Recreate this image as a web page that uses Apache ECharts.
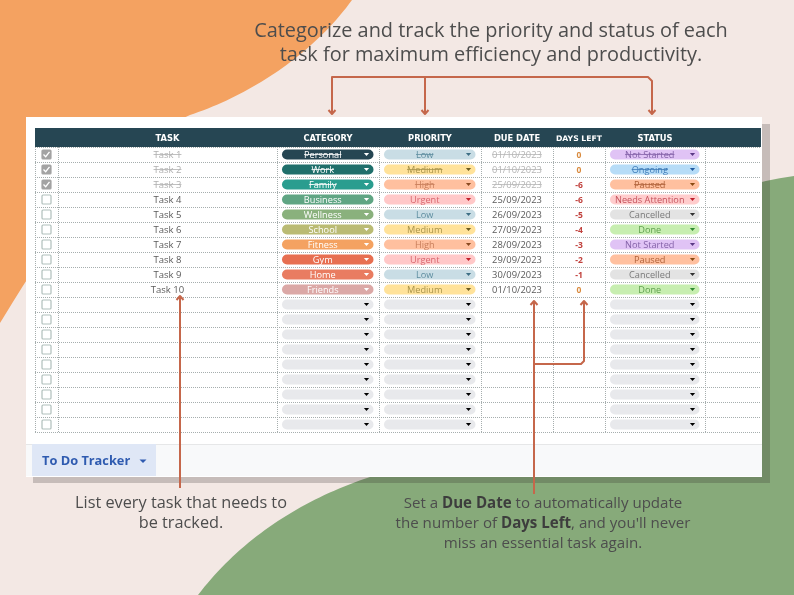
<!DOCTYPE html>
<html>
<head>
<meta charset="utf-8">
<style>html,body{margin:0;padding:0;background:#f3e8e4}#main{width:794px;height:595px}</style>
<script src="https://cdn.jsdelivr.net/npm/echarts@6/dist/echarts.min.js"></script>
</head>
<body>
<div id="main"></div>
<script>
// table contents
const headers = ['TASK', 'CATEGORY', 'PRIORITY', 'DUE DATE', 'DAYS LEFT', 'STATUS'];
const tasks = ['Task 1', 'Task 2', 'Task 3', 'Task 4', 'Task 5', 'Task 6', 'Task 7', 'Task 8', 'Task 9', 'Task 10'];
const categories = ['Personal', 'Work', 'Family', 'Business', 'Wellness', 'School', 'Fitness', 'Gym', 'Home', 'Friends'];
const priorities = ['Low', 'Medium', 'High', 'Urgent', 'Low', 'Medium', 'High', 'Urgent', 'Low', 'Medium'];
const dueDates = ['01/10/2023', '01/10/2023', '25/09/2023', '25/09/2023', '26/09/2023', '27/09/2023', '28/09/2023', '29/09/2023', '30/09/2023', '01/10/2023'];
const daysLeft = [0, 0, -6, -6, -5, -4, -3, -2, -1, 0];
const statuses = ['Not Started', 'Ongoing', 'Paused', 'Needs Attention', 'Cancelled', 'Done', 'Not Started', 'Paused', 'Cancelled', 'Done'];
const checked = [true, true, true, false, false, false, false, false, false, false];
const rowIds = ['1', '2', '3', '4', '5', '6', '7', '8', '9', '10', '11', '12', '13', '14', '15', '16', '17', '18', '19'];

// x axis runs in table pixels, one edge per dotted column line
const colEdges = [0, 23, 242, 344, 446, 518, 570, 670];
const colCenters = [132.5, 293, 395, 482, 544, 620];

const categoryColors = {
    Personal: '#264653', Work: '#1f6f6b', Family: '#2a9d8f', Business: '#5fa583', Wellness: '#8ab17d',
    School: '#babb74', Fitness: '#f4a261', Gym: '#e76f51', Home: '#e97c61', Friends: '#dba8a6'
};
const priorityColors = {
    Low: ['#c9dde5', '#5f8ea0', '#3f6f85'],
    Medium: ['#ffe29a', '#a8934a', '#6b5a1e'],
    High: ['#ffc09f', '#c97f5c', '#8a4a20'],
    Urgent: ['#ffc8c8', '#d9666e', '#c0202c']
};
const statusColors = {
    'Not Started': ['#e0c3f5', '#8462a8', '#5b3a86'],
    Ongoing: ['#b6dcf7', '#3f7cb8', '#1f5aa0'],
    Paused: ['#ffc09f', '#b0623a', '#8a4a10'],
    'Needs Attention': ['#ffcccc', '#c4525c', '#c0202c'],
    Cancelled: ['#e3e3e3', '#7a7a7a', '#333333'],
    Done: ['#c7eeb0', '#5f9f4e', '#2f8a30']
};

const FONT = '"Open Sans", sans-serif';
const TEXT_DARK = '#4d4d4d';
const ARROW = '#c5674b';

const measure = document.createElement('canvas').getContext('2d');

function textItem(text, x, y, fill, font, strike) {
    const out = [{
        type: 'text',
        style: { text: text, x: x, y: y + 0.8, fill: fill, font: font, align: 'center', verticalAlign: 'middle' }
    }];
    if (strike) {
        measure.font = font;
        const w = measure.measureText(text).width / 2;
        out.push({
            type: 'line',
            shape: { x1: x - w, y1: y, x2: x + w, y2: y },
            style: { stroke: fill, lineWidth: 0.8 }
        });
    }
    return out;
}

// one drop down pill per row, empty rows come out grey
function pillSeries(col, labels, colorOf) {
    return {
        type: 'custom',
        silent: true,
        clip: false,
        z: 3,
        data: rowIds.map((id, i) => [colEdges[col], i]),
        renderItem: function (params, api) {
            const i = params.dataIndex;
            const start = api.coord([api.value(0) + 5, api.value(1)]);
            const end = api.coord([colEdges[col + 1] - 5.5, api.value(1)]);
            const c = colorOf(labels[i]);
            const y = Math.round(start[1]) - 0.5;
            const h = 10;
            const ax = end[0] - 7;
            const kids = [
                {
                    type: 'rect',
                    shape: { x: start[0], y: y - h / 2, width: end[0] - start[0], height: h, r: 5 },
                    style: { fill: c[0] }
                },
                {
                    type: 'polygon',
                    shape: { points: [[ax - 2.6, y - 1.4], [ax + 2.6, y - 1.4], [ax, y + 1.6]] },
                    style: { fill: c[2] }
                }
            ];
            if (labels[i]) {
                const cx = (start[0] + end[0]) / 2 - 5;
                textItem(labels[i], cx, y, c[1], '9.2px ' + FONT, checked[i]).forEach(k => kids.push(k));
            }
            return { type: 'group', children: kids };
        }
    };
}

// plain text column, no pill behind
function textSeries(col, values, styleOf, strikeDone) {
    return {
        type: 'custom',
        silent: true,
        clip: false,
        z: 3,
        data: values.map((v, i) => [colCenters[col], i]),
        renderItem: function (params, api) {
            const i = params.dataIndex;
            const p = api.coord([api.value(0), api.value(1)]);
            const s = styleOf(i);
            return {
                type: 'group',
                children: textItem(String(values[i]), p[0], Math.round(p[1]) - 0.5, s[0], s[1], strikeDone && checked[i])
            };
        }
    };
}

const checkboxSeries = {
    type: 'custom',
    silent: true,
    clip: false,
    z: 3,
    data: rowIds.map((id, i) => [11.5, i]),
    renderItem: function (params, api) {
        const i = params.dataIndex;
        const p = api.coord([api.value(0), api.value(1)]);
        const x = p[0], y = Math.round(p[1]) - 0.5;
        const on = checked[i];
        const kids = [{
            type: 'rect',
            shape: { x: x - 4.5, y: y - 4.5, width: 9, height: 9, r: 1 },
            style: { fill: on ? '#a3a3a3' : '#ffffff', stroke: on ? '#a3a3a3' : '#b0bfbb', lineWidth: 1.2 }
        }];
        if (on) {
            kids.push({
                type: 'polyline',
                shape: { points: [[x - 3, y], [x - 0.8, y + 2.2], [x + 3, y - 2.6]] },
                style: { stroke: '#ffffff', lineWidth: 1.3, fill: null }
            });
        }
        return { type: 'group', children: kids };
    }
};

// sampled bezier, only used for the two background blobs
function curve(p0, p1, p2, p3) {
    const pts = [];
    for (let k = 0; k <= 40; k++) {
        const t = k / 40, u = 1 - t;
        pts.push([
            u * u * u * p0[0] + 3 * u * u * t * p1[0] + 3 * u * t * t * p2[0] + t * t * t * p3[0],
            u * u * u * p0[1] + 3 * u * u * t * p1[1] + 3 * u * t * t * p2[1] + t * t * t * p3[1]
        ]);
    }
    return pts;
}

const orangeBlob = [[0, 0]].concat(
    curve([352, 0], [312, 55], [250, 95], [190, 115]),
    curve([190, 115], [110, 150], [60, 225], [0, 323])
);
const greenBlob = [[794, 595]].concat(
    curve([198, 595], [240, 540], [300, 500], [370, 477]),
    curve([370, 477], [520, 420], [600, 200], [794, 176])
);

function poly(points, fill, z) {
    return { type: 'polygon', silent: true, z: z, shape: { points: points }, style: { fill: fill } };
}
function box(x, y, w, h, fill, z) {
    return { type: 'rect', silent: true, z: z, shape: { x: x, y: y, width: w, height: h }, style: { fill: fill } };
}
function stroke(points, z) {
    return { type: 'polyline', silent: true, z: z, shape: { points: points }, style: { stroke: ARROW, lineWidth: 2, fill: null, lineJoin: 'round' } };
}
function head(x, y, dir) {
    return stroke([[x - 3.5, y - dir * 4], [x, y], [x + 3.5, y - dir * 4]], 60);
}
function note(x, y, rich, size) {
    return {
        type: 'text', silent: true, z: 60, x: x, y: y,
        style: {
            text: rich, fill: TEXT_DARK, font: size + 'px ' + FONT, align: 'center', verticalAlign: 'middle',
            rich: { b: { font: 'bold ' + size + 'px ' + FONT, fill: '#3d3d3d' } }
        }
    };
}

const decorations = [
    box(0, 0, 794, 595, '#f3e8e4', -20),
    poly(orangeBlob, '#f4a261', -19),
    poly(greenBlob, '#87aa7a', -19),
    box(33, 124, 737, 359, 'rgba(40,30,30,0.22)', -18),
    box(26, 117, 736, 360, '#ffffff', -17),
    box(35, 128, 726, 19, '#264653', -16),
    box(26, 444, 736, 32, '#f8f9fa', -16),
    box(26, 444, 736, 1, '#e6e7e8', -15),
    box(32, 444, 124, 32, '#dfe7f6', -15),
    {
        type: 'text', silent: true, z: 5, x: 42, y: 461.5,
        style: { text: 'To Do Tracker', fill: '#2f5bb0', font: 'bold 12.8px ' + FONT, verticalAlign: 'middle' }
    },
    poly([[139.5, 459.5], [146.5, 459.5], [143, 463]], '#2f5bb0', 5),

    note(491, 31.5, 'Categorize and track the priority and status of each', 19.9),
    note(491, 55.5, 'task for maximum efficiency and productivity.', 19.9),
    note(181, 503.5, 'List every task that needs to', 16.3),
    note(181, 523.5, 'be tracked.', 16.3),
    note(543, 503.5, 'Set a {b|Due Date} to automatically update', 15.1),
    note(543, 523.5, 'the number of {b|Days Left}, and you\'ll never', 15.1),
    note(543, 543.5, 'miss an essential task again.', 15.1),

    // callout arrows
    stroke([[332, 113], [332, 77], [648, 77], [652, 81], [652, 113]], 60),
    stroke([[425, 77], [425, 113]], 60),
    head(332, 114, 1), head(425, 114, 1), head(652, 114, 1),
    stroke([[180, 297], [180, 488]], 60), head(180, 296, -1),
    stroke([[534, 302], [534, 494]], 60), head(534, 301, -1),
    stroke([[584, 302], [584, 361], [581, 364], [534, 364]], 60), head(584, 301, -1)
];

const emptyPill = ['#e8e9ec', '#000000', '#000000'];
const dot = { color: '#a6aeae', width: 1, type: [1, 1] };

const chart = echarts.init(document.getElementById('main'));
chart.setOption({
    animation: false,
    graphic: { elements: decorations },
    grid: { left: 35, top: 147, width: 726, height: 285 },
    xAxis: {
        type: 'value',
        position: 'top',
        min: 0,
        max: 726,
        axisLine: { show: false },
        axisTick: { show: false, customValues: colEdges },
        splitLine: { show: true, lineStyle: dot },
        axisLabel: {
            customValues: colCenters,
            margin: 4,
            hideOverlap: false,
            fontFamily: 'DejaVu Sans',
            fontWeight: 'bold',
            fontSize: 8.3,
            color: '#ffffff',
            formatter: v => {
                const name = headers[colCenters.indexOf(v)];
                return name === 'DAYS LEFT' ? '{s|' + name + '}' : name;
            },
            rich: { s: { fontFamily: 'DejaVu Sans', fontWeight: 'bold', fontSize: 7.7, color: '#ffffff' } }
        }
    },
    yAxis: {
        type: 'category',
        inverse: true,
        data: rowIds,
        axisLine: { show: false },
        axisTick: { show: false },
        axisLabel: { show: false },
        splitLine: { show: true, interval: 0, lineStyle: dot }
    },
    series: [
        checkboxSeries,
        textSeries(0, tasks, i => [checked[i] ? '#b0b0b0' : '#5a5a5a', '9.5px ' + FONT], true),
        pillSeries(2, categories, name => {
            const c = categoryColors[name];
            return c ? [c, '#ffffff', '#ffffff'] : emptyPill;
        }),
        pillSeries(3, priorities, name => priorityColors[name] || emptyPill),
        textSeries(3, dueDates, i => [checked[i] ? '#b5b5b5' : '#5a5a5a', '9.4px ' + FONT], true),
        textSeries(4, daysLeft, i => [daysLeft[i] === 0 ? '#d98a3d' : '#c0403c', 'bold 8.5px ' + FONT], false),
        pillSeries(6, statuses, name => statusColors[name] || emptyPill)
    ]
});
</script>
</body>
</html>
